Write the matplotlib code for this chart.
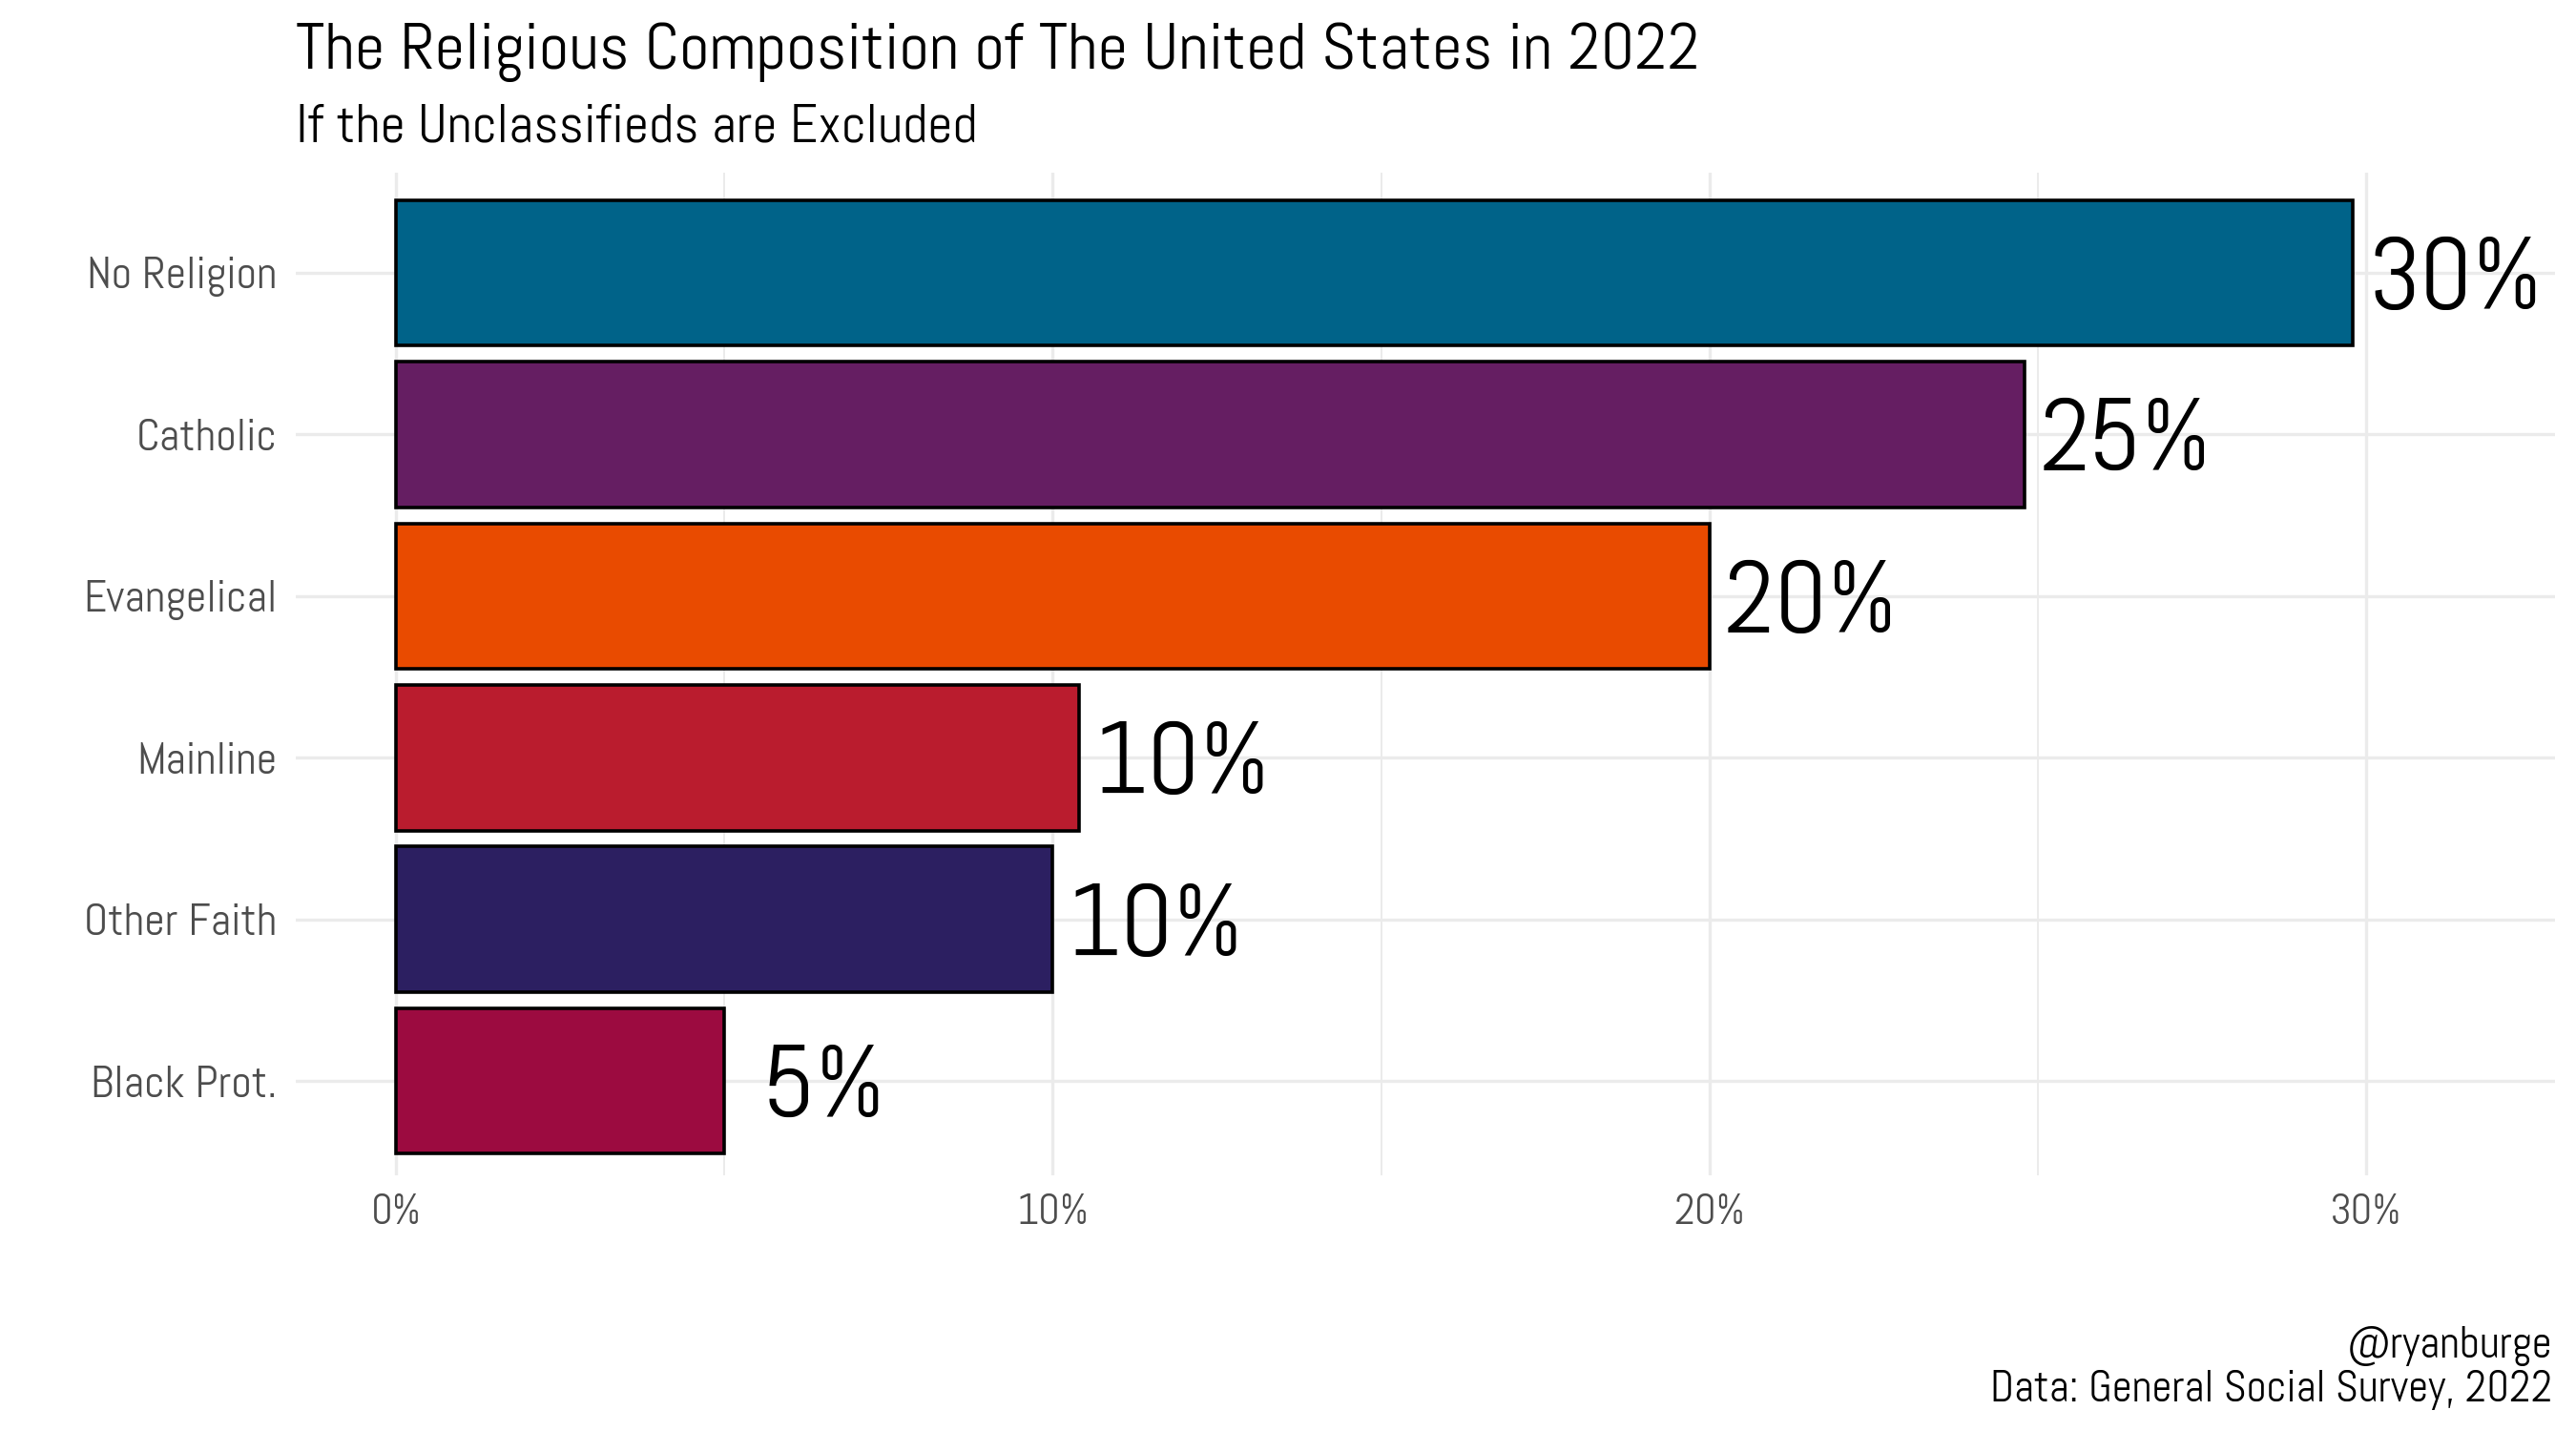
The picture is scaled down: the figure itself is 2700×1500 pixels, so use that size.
import numpy as np
import matplotlib.pyplot as plt
from matplotlib import font_manager

# values (percent)
groups = ["No Religion", "Catholic", "Evangelical", "Mainline", "Other Faith", "Black Prot."]
shares = [29.8, 24.8, 20.0, 10.4, 10.0, 5.0]
labels = ["30%", "25%", "20%", "10%", "10%", " 5%"]
colors = ["#006389", "#651E62", "#E94B00", "#BA1C2E", "#2C1F61", "#9C0B40"]

# pick a narrow face like the original, if one is there
have = {f.name for f in font_manager.fontManager.ttflist}
wanted = ["Abel", "Roboto Condensed", "Liberation Sans Narrow", "Open Sans Condensed"]
main_font = next((w for w in wanted if w in have), "DejaVu Sans")
plt.rcParams['font.family'] = [main_font, 'DejaVu Sans']

fig = plt.figure(figsize=(13.5, 7.5), dpi=200)
ax = fig.add_axes([0.1148, 0.179, 0.8769, 0.7005])

y = np.arange(len(groups))
ax.barh(y, shares, height=0.9, color=colors, edgecolor="black", linewidth=1.3, zorder=3)

for yi, v, lab in zip(y, shares, labels):
    ax.text(v + 0.22, yi, lab, ha="left", va="center_baseline", fontsize=39, color="black", zorder=4)

ax.set_xlim(-1.526, 32.87)
ax.set_ylim(len(groups) - 0.42, -0.62)

ax.set_yticks(y)
ax.set_yticklabels(groups)
ax.set_xticks([0, 10, 20, 30])
ax.set_xticklabels(["0%", "10%", "20%", "30%"])
ax.set_xticks([5, 15, 25], minor=True)

ax.tick_params(axis="both", which="both", length=0)
ax.tick_params(axis="y", labelsize=17, labelcolor="#4d4d4d", pad=7)
ax.tick_params(axis="x", labelsize=16, labelcolor="#4d4d4d", pad=7)

ax.grid(True, which="major", color="#ebebeb", linewidth=1.2, zorder=0)
ax.grid(True, which="minor", axis="x", color="#ebebeb", linewidth=0.7, zorder=0)
for s in ax.spines.values():
    s.set_visible(False)

fig.text(0.1148, 0.952, "The Religious Composition of The United States in 2022",
         fontsize=25, ha="left", va="baseline", color="black")
fig.text(0.1148, 0.901, "If the Unclassifieds are Excluded",
         fontsize=20.7, ha="left", va="baseline", color="black")
fig.text(0.991, 0.0513, "@ryanburge", fontsize=16.5, ha="right", va="baseline", color="black")
fig.text(0.991, 0.0205, "Data: General Social Survey, 2022", fontsize=16.5, ha="right", va="baseline", color="black")

fig.savefig("out.png", dpi=200)
